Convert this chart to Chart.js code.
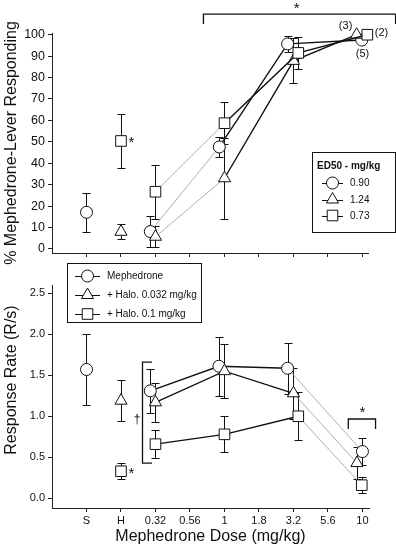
<!DOCTYPE html>
<html>
<head>
<meta charset="utf-8">
<script src="https://cdn.jsdelivr.net/npm/chart.js@4.4.1/dist/chart.umd.min.js"></script>
<style>
    html, body { margin: 0; padding: 0; background: #fff; }
    #wrap { position: relative; width: 396px; height: 547px; }
    #wrap canvas { position: absolute; left: 0; top: 0; }
</style>
</head>
<body>
<div id="wrap">
    <canvas id="chart-pct" width="396" height="547"></canvas>
    <canvas id="chart-rate" width="396" height="547"></canvas>
</div>
<script>
// categories on the x axis (S = saline, H = haloperidol alone)
const doseLabels = ["S", "H", "0.32", "0.56", "1", "1.8", "3.2", "5.6", "10"];
const testDoses = ["0.32", "1", "3.2", "10"];
const controlDoses = ["S", "H", "H"];
const seriesNames = ["Mephedrone", "+ Halo. 0.032 mg/kg", "+ Halo. 0.1 mg/kg"];
const ed50Values = ["0.90", "1.24", "0.73"];

// % mephedrone-lever responding (mean / SEM)
const pctMeph = [8.1, 47.6, 95.7, 97.5];
const pctMephSem = [7.3, 4.5, 3.6, 0];
const pctHalo032 = [5.7, 33, 87.8, 100];
const pctHalo032Sem = [4.9, 19, 10.5, 0];
const pctHalo01 = [26.7, 58.7, 91.5, 100];
const pctHalo01Sem = [12.7, 9.8, 7.5, 0];
const pctControl = [17.1, 8, 50.4];
const pctControlSem = [9, 3.5, 12.7];

// response rate, R/s (mean / SEM)
const rateMeph = [1.31, 1.61, 1.585, 0.57];
const rateMephSem = [0.27, 0.36, 0.31, 0.16];
const rateHalo032 = [1.17, 1.55, 1.28, 0.43];
const rateHalo032Sem = [0.24, 0.33, 0.31, 0.19];
const rateHalo01 = [0.66, 0.78, 1.0, 0.16];
const rateHalo01Sem = [0.17, 0.22, 0.29, 0.1];
const rateControl = [1.57, 1.19, 0.33];
const rateControlSem = [0.43, 0.25, 0.1];

const pctTicks = [0, 10, 20, 30, 40, 50, 60, 70, 80, 90, 100];
const rateTicks = [0, 0.5, 1, 1.5, 2, 2.5];

// ---- look ----
const FONT = "'Liberation Sans', Arial, Helvetica, sans-serif";
const INK = "#111";
const shapes = ["circle", "triangle", "rect"];
const radii = [6, 7, 7.5];
// small horizontal offsets so markers don't sit on top of each other
const dodgePct = [[-0.15, -0.15, -0.17, -0.02], [0, 0, 0, -0.17], [0, 0, 0.14, 0.14]];
const dodgeRate = [[-0.15, -0.16, -0.17, 0], [0, 0, 0, -0.16], [0, 0, 0.14, -0.02]];

Chart.defaults.font.family = FONT;
Chart.defaults.color = INK;

const xIndex = (label) => doseLabels.indexOf(label);

const buildDatasets = (series, sems, controls, controlSems, dodge, dimSegment) => {
    const datasets = [];
    series.forEach((vals, s) => {
        datasets.push({
            data: vals.map((v, i) => ({ x: xIndex(testDoses[i]) + dodge[s][i], y: v })),
            sem: sems[s],
            showLine: true,
            order: 2 - s,
            clip: false,
            pointStyle: shapes[s],
            pointRadius: radii[s],
            pointBackgroundColor: "#fff",
            pointBorderColor: INK,
            pointBorderWidth: 1,
            borderColor: INK,
            borderWidth: 1.4,
            segment: {
                borderColor: (c) => (c.p0DataIndex === dimSegment ? "#9a9a9a" : INK),
                borderWidth: (c) => (c.p0DataIndex === dimSegment ? 0.8 : 1.4),
            },
        });
        datasets.push({
            data: [{ x: xIndex(controlDoses[s]), y: controls[s] }],
            sem: [controlSems[s]],
            showLine: false,
            order: 2 - s,
            clip: false,
            pointStyle: shapes[s],
            pointRadius: radii[s],
            pointBackgroundColor: "#fff",
            pointBorderColor: INK,
            pointBorderWidth: 1,
        });
    });
    return datasets;
};

const errorBars = {
    id: "errorBars",
    beforeDatasetsDraw(chart) {
        const ctx = chart.ctx;
        const y = chart.scales.y;
        chart.data.datasets.forEach((ds, di) => {
            const meta = chart.getDatasetMeta(di);
            meta.data.forEach((pt, i) => {
                const e = ds.sem[i];
                if (!e) return;
                const v = ds.data[i].y;
                const x = Math.round(pt.x) + 0.5;
                const yt = Math.round(y.getPixelForValue(v + e)) + 0.5;
                const yb = Math.round(y.getPixelForValue(v - e)) + 0.5;
                ctx.save();
                ctx.strokeStyle = INK;
                ctx.lineWidth = 1;
                ctx.beginPath();
                ctx.moveTo(x, yt);
                ctx.lineTo(x, yb);
                ctx.moveTo(x - 4, yt);
                ctx.lineTo(x + 4, yt);
                ctx.moveTo(x - 4, yb);
                ctx.lineTo(x + 4, yb);
                ctx.stroke();
                ctx.restore();
            });
        });
    },
};

const marker = (ctx, style, x, y, r) => {
    ctx.beginPath();
    if (style === "circle") {
        ctx.arc(x, y, r, 0, Math.PI * 2);
    } else if (style === "triangle") {
        ctx.moveTo(x, y - r);
        ctx.lineTo(x + r * 0.866, y + r / 2);
        ctx.lineTo(x - r * 0.866, y + r / 2);
        ctx.closePath();
    } else {
        const h = r * Math.SQRT1_2;
        ctx.rect(x - h, y - h, 2 * h, 2 * h);
    }
    ctx.fillStyle = "#fff";
    ctx.fill();
    ctx.lineWidth = 1;
    ctx.strokeStyle = INK;
    ctx.stroke();
};

const star = (ctx, x, y, size) => {
    ctx.font = size + "px " + FONT;
    ctx.textAlign = "center";
    ctx.textBaseline = "alphabetic";
    ctx.fillStyle = INK;
    ctx.fillText("*", x, y + size * 0.57);
};

const bracket = (ctx, x0, x1, y, yEnd) => {
    ctx.beginPath();
    ctx.moveTo(x0, yEnd);
    ctx.lineTo(x0, y);
    ctx.lineTo(x1, y);
    ctx.lineTo(x1, yEnd);
    ctx.lineWidth = 1.3;
    ctx.strokeStyle = INK;
    ctx.stroke();
};

const key = (ctx, box, title, rows, lineX, markX, textX, rowY, titleY) => {
    ctx.save();
    ctx.fillStyle = "#fff";
    ctx.fillRect(box[0], box[1], box[2] - box[0], box[3] - box[1]);
    ctx.strokeStyle = INK;
    ctx.lineWidth = 1;
    ctx.strokeRect(box[0] + 0.5, box[1] + 0.5, box[2] - box[0] - 1, box[3] - box[1] - 1);
    ctx.textBaseline = "middle";
    ctx.textAlign = "left";
    if (title) {
        ctx.font = "bold 10px " + FONT;
        ctx.fillStyle = INK;
        ctx.fillText(title, box[0] + 5, titleY);
    }
    rows.forEach((label, i) => {
        const y = rowY[i];
        ctx.beginPath();
        ctx.moveTo(lineX[0], Math.round(y) + 0.5);
        ctx.lineTo(lineX[1], Math.round(y) + 0.5);
        ctx.strokeStyle = INK;
        ctx.lineWidth = 1;
        ctx.stroke();
        marker(ctx, shapes[i], markX, y, radii[i]);
        ctx.font = "10px " + FONT;
        ctx.fillStyle = INK;
        ctx.fillText(label, textX, y + 0.5);
    });
    ctx.restore();
};

const yTitle = (ctx, text, x, y) => {
    ctx.save();
    ctx.translate(x, y);
    ctx.rotate(-Math.PI / 2);
    ctx.font = "16px " + FONT;
    ctx.fillStyle = INK;
    ctx.textAlign = "center";
    ctx.textBaseline = "middle";
    ctx.fillText(text, 0, 0);
    ctx.restore();
};

const pctNotes = {
    id: "pctNotes",
    afterDraw(chart) {
        const { ctx, scales: { x, y } } = chart;
        ctx.save();
        bracket(ctx, x.getPixelForValue(3.39), x.getPixelForValue(8.96), y.getPixelForValue(109.6), y.getPixelForValue(105));
        star(ctx, x.getPixelForValue(6.09), y.getPixelForValue(114), 15);
        star(ctx, x.getPixelForValue(1.3), y.getPixelForValue(51.8), 15);
        ctx.font = "11px " + FONT;
        ctx.textAlign = "center";
        ctx.textBaseline = "middle";
        ctx.fillText("(3)", x.getPixelForValue(7.51), y.getPixelForValue(104.2));
        ctx.fillText("(2)", x.getPixelForValue(8.55), y.getPixelForValue(100.8));
        ctx.fillText("(5)", x.getPixelForValue(8.0), y.getPixelForValue(91.2));
        yTitle(ctx, "% Mephedrone-Lever Responding", 12, (chart.chartArea.top + chart.chartArea.bottom) / 2);
        key(ctx, [312, 152, 396, 233], "ED50 - mg/kg", ed50Values, [322, 343], 332.5, 350, [183, 199.5, 215.5], 166);
        ctx.restore();
    },
};

const rateNotes = {
    id: "rateNotes",
    afterDraw(chart) {
        const { ctx, scales: { x, y } } = chart;
        ctx.save();
        // dagger bracket over the low test doses
        const bx = Math.round(x.getPixelForValue(1.61)) + 0.5;
        const bx1 = x.getPixelForValue(1.9);
        const by0 = y.getPixelForValue(1.66);
        const by1 = y.getPixelForValue(0.43);
        ctx.beginPath();
        ctx.moveTo(bx1, by0);
        ctx.lineTo(bx, by0);
        ctx.lineTo(bx, by1);
        ctx.lineTo(bx1, by1);
        ctx.lineWidth = 1.3;
        ctx.strokeStyle = INK;
        ctx.stroke();
        ctx.font = "12px " + FONT;
        ctx.fillStyle = INK;
        ctx.textAlign = "center";
        ctx.textBaseline = "middle";
        ctx.fillText("\u2020", x.getPixelForValue(1.47), y.getPixelForValue(0.955));
        star(ctx, x.getPixelForValue(1.3), y.getPixelForValue(0.35), 15);
        bracket(ctx, x.getPixelForValue(7.59), x.getPixelForValue(8.38), y.getPixelForValue(0.967), y.getPixelForValue(0.845));
        star(ctx, x.getPixelForValue(8.0), y.getPixelForValue(1.1), 15);
        yTitle(ctx, "Response Rate (R/s)", 12, 380);
        ctx.font = "16px " + FONT;
        ctx.textAlign = "center";
        ctx.textBaseline = "middle";
        ctx.fillText("Mephedrone Dose (mg/kg)", (chart.chartArea.left + chart.chartArea.right) / 2, 537);
        key(ctx, [67, 263, 202, 323], null, seriesNames, [75, 100], 87.5, 107, [276, 295, 314], 0);
        ctx.restore();
    },
};

const axisStyle = {
    grid: { drawOnChartArea: false, drawTicks: true, tickLength: 4, color: "#222" },
    border: { display: true, color: "#222", width: 1 },
};

const makeChart = (id, opts) =>
    new Chart(document.getElementById(id), {
        type: "scatter",
        data: { datasets: opts.datasets },
        plugins: [errorBars, opts.notes],
        options: {
            responsive: false,
            animation: false,
            events: [],
            layout: { padding: opts.padding },
            plugins: { legend: { display: false }, tooltip: { enabled: false } },
            scales: {
                x: {
                    type: "linear",
                    min: -1,
                    max: opts.xMax,
                    afterBuildTicks: (s) => {
                        s.ticks = doseLabels.map((_, i) => ({ value: i }));
                    },
                    afterFit: (s) => {
                        s.height = opts.xHeight;
                    },
                    ticks: {
                        autoSkip: false,
                        maxRotation: 0,
                        minRotation: 0,
                        padding: 2,
                        font: { size: 11 },
                        callback: (v) => (opts.xLabels ? doseLabels[v] : ""),
                    },
                    ...axisStyle,
                },
                y: {
                    type: "linear",
                    min: opts.yMin,
                    max: opts.yMax,
                    afterBuildTicks: (s) => {
                        s.ticks = opts.yTicks.map((v) => ({ value: v }));
                    },
                    afterFit: (s) => {
                        s.width = 52;
                    },
                    ticks: {
                        padding: 3,
                        font: { size: opts.yFont },
                        callback: opts.yFormat,
                    },
                    ...axisStyle,
                },
            },
        },
    });

window.chartPct = makeChart("chart-pct", {
    datasets: buildDatasets(
        [pctMeph, pctHalo032, pctHalo01],
        [pctMephSem, pctHalo032Sem, pctHalo01Sem],
        pctControl,
        pctControlSem,
        dodgePct,
        0
    ),
    notes: pctNotes,
    padding: { left: 0, right: 28, top: 33, bottom: 547 - 253 - 8 },
    xHeight: 8,
    xMax: 8.16,
    xLabels: false,
    yMin: -1.9,
    yMax: 100.8,
    yTicks: pctTicks,
    yFont: 12.5,
    yFormat: (v) => String(v),
});

window.chartRate = makeChart("chart-rate", {
    datasets: buildDatasets(
        [rateMeph, rateHalo032, rateHalo01],
        [rateMephSem, rateHalo032Sem, rateHalo01Sem],
        rateControl,
        rateControlSem,
        dodgeRate,
        2
    ),
    notes: rateNotes,
    padding: { left: 0, right: 27, top: 285, bottom: 0 },
    xHeight: 39,
    xMax: 8.19,
    xLabels: true,
    yMin: -0.118,
    yMax: 2.6,
    yTicks: rateTicks,
    yFont: 11,
    yFormat: (v) => v.toFixed(1),
});
</script>
</body>
</html>
